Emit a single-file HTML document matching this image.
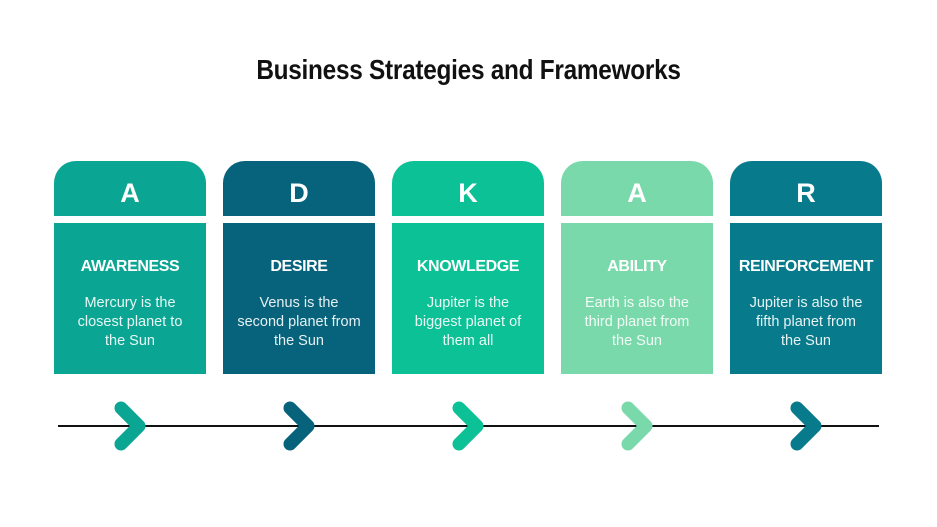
<!DOCTYPE html>
<html><head><meta charset="utf-8"><style>
body{margin:0;width:937px;height:527px;background:#fff;position:relative;overflow:hidden;font-family:"Liberation Sans",sans-serif}
.t{position:absolute;left:0;width:937px;top:54px;text-align:center;font-weight:bold;font-size:28px;color:#111;transform:scaleX(0.87);letter-spacing:-0.3px}
.h{position:absolute;top:161px;width:152px;height:55px;border-radius:22px 22px 0 0;color:#fff;font-weight:bold;font-size:27px;text-align:center;line-height:64px}
.b{position:absolute;top:223px;width:152px;height:151px;color:#fff;text-align:center}
.b .n{margin-top:35px;font-weight:bold;font-size:16px;letter-spacing:-0.4px}
.b .d{margin-top:18px;font-size:14.5px;line-height:19px;opacity:.9;padding:0 14px}
</style></head><body>
<div class="t">Business Strategies and Frameworks</div>

<div class="h" style="left:54px;background:#0aa693">A</div>
<div class="b" style="left:54px;background:#0aa693"><div class="n">AWARENESS</div><div class="d">Mercury is the closest planet to the Sun</div></div>
<div class="h" style="left:223px;background:#06637b">D</div>
<div class="b" style="left:223px;background:#06637b"><div class="n">DESIRE</div><div class="d">Venus is the second planet from the Sun</div></div>
<div class="h" style="left:392px;background:#0dc196">K</div>
<div class="b" style="left:392px;background:#0dc196"><div class="n">KNOWLEDGE</div><div class="d">Jupiter is the biggest planet of them all</div></div>
<div class="h" style="left:561px;background:#79d9ab">A</div>
<div class="b" style="left:561px;background:#79d9ab"><div class="n">ABILITY</div><div class="d">Earth is also the third planet from the Sun</div></div>
<div class="h" style="left:730px;background:#077b8b">R</div>
<div class="b" style="left:730px;background:#077b8b"><div class="n">REINFORCEMENT</div><div class="d">Jupiter is also the fifth planet from the Sun</div></div>

<svg width="937" height="527" style="position:absolute;left:0;top:0">
<line x1="58" y1="426" x2="879" y2="426" stroke="#111" stroke-width="2"/>
<g fill="none" stroke-width="13" stroke-linecap="round" stroke-linejoin="round">
<polyline points="121,408 139,426 121,444" stroke="#0aa693"/>
<polyline points="290,408 308,426 290,444" stroke="#06637b"/>
<polyline points="459,408 477,426 459,444" stroke="#0dc196"/>
<polyline points="628,408 646,426 628,444" stroke="#79d9ab"/>
<polyline points="797,408 815,426 797,444" stroke="#077b8b"/>
</g>
</svg>
</body></html>
